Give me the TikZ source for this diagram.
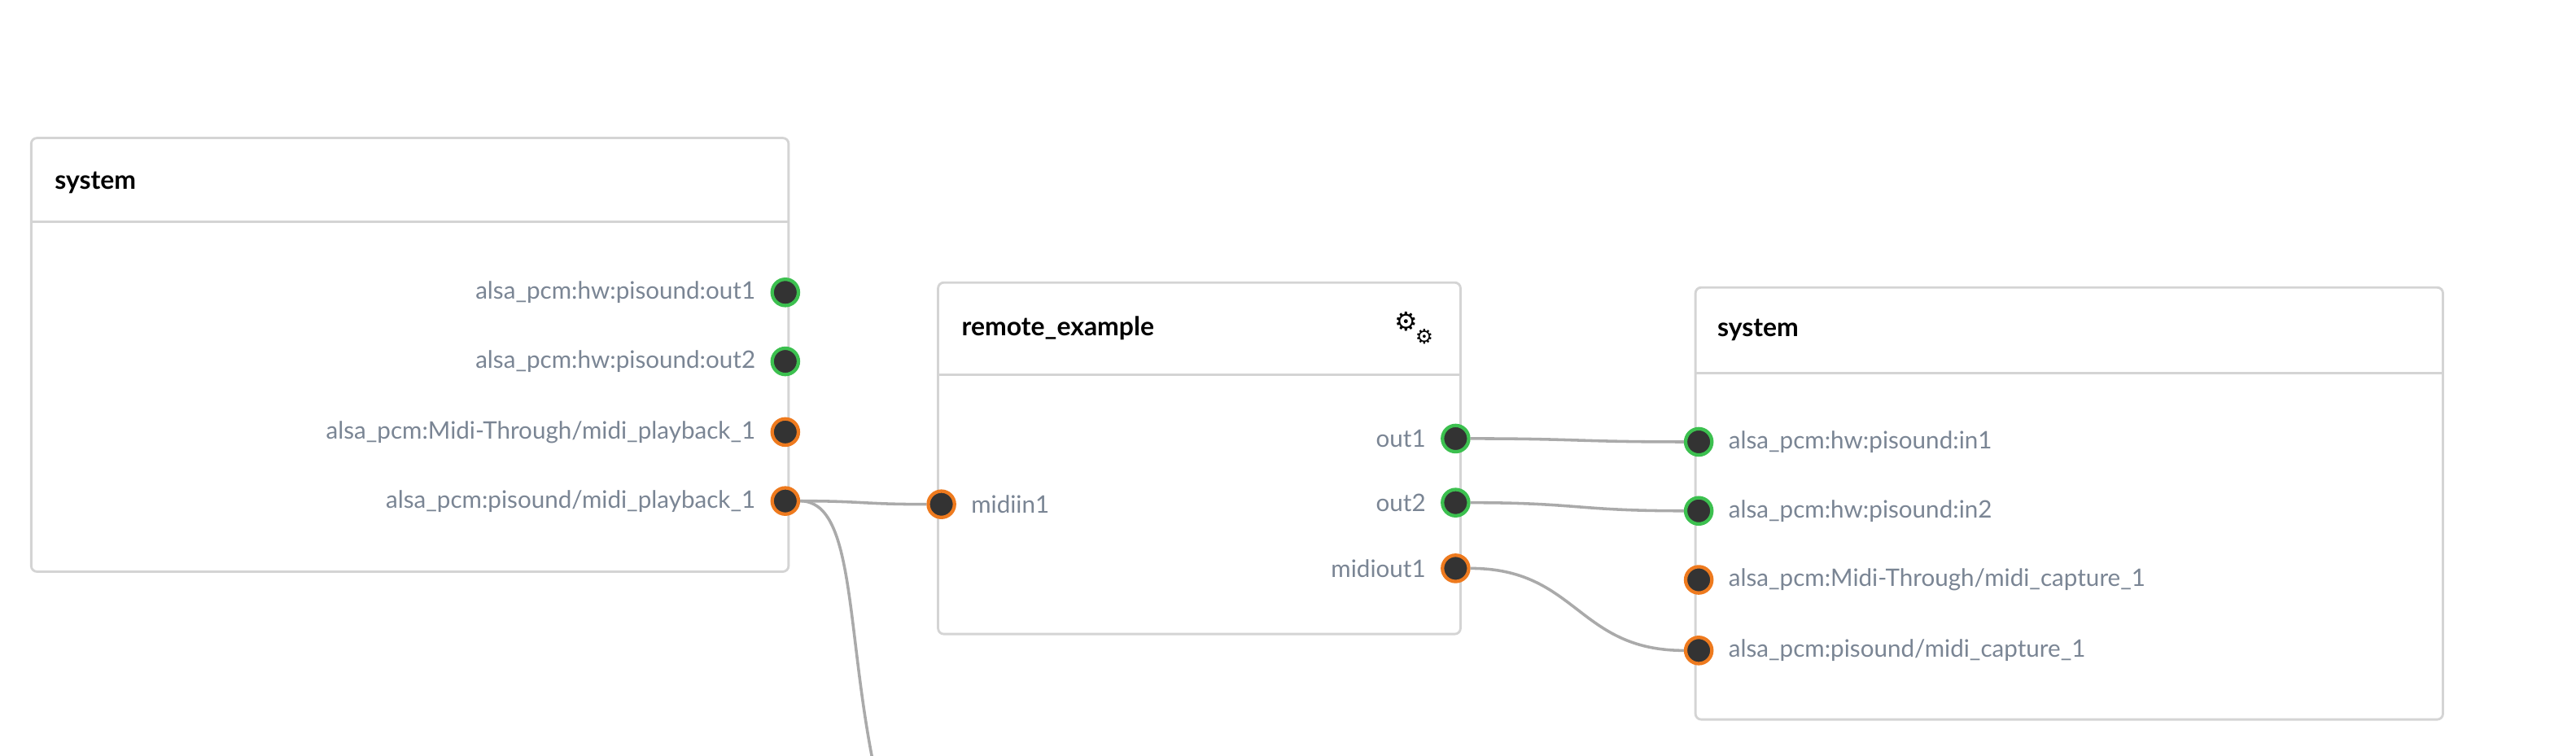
\documentclass[tikz,border=0pt]{standalone}
\usepackage{fontspec}
\setmainfont{Lato}
\newfontfamily\symfont{DejaVu Sans}
\usetikzlibrary{positioning}
\definecolor{portgreen}{HTML}{3CC04F}
\definecolor{portorange}{HTML}{EE7A1E}
\definecolor{portfill}{HTML}{333333}
\definecolor{labelgray}{HTML}{7A8594}
\definecolor{boxline}{HTML}{D4D4D4}
\definecolor{wire}{HTML}{AAAAAA}
\tikzset{>=latex}
\begin{document}
\begin{tikzpicture}[x=0.02cm, y=-0.02cm,
    block/.style={draw=boxline, line width=0.8pt, rounded corners=2pt, fill=white},
    title/.style={anchor=west, inner sep=0pt, font=\fontsize{9}{10}\selectfont\bfseries},
    audio/.style={circle, draw=portgreen, fill=portfill, line width=1.2pt, minimum size=0.32cm, inner sep=0pt},
    midi/.style={audio, draw=portorange},
    plabel/.style={text=labelgray, inner sep=1pt, font=\fontsize{8.35}{10}\selectfont},
    wireline/.style={draw=wire, line width=1pt}
  ]
  \useasboundingbox (0,0) rectangle (1568,460);
  % left system
  \draw[block] (19,84) rectangle (480,348);
  \draw[boxline, line width=0.8pt] (19,135) -- (480,135);
  \node[title] (systitle) at (33,111) {system};
  \node[audio] (lout1) at (478,178) {};
  \node[audio] (lout2) at (478,220) {};
  \node[midi] (lmidi1) at (478,263) {};
  \node[midi] (lmidi2) at (478,305) {};
  \node[plabel, left=4pt of lout1] {alsa\_pcm:hw:pisound:out1};
  \node[plabel, left=4pt of lout2] {alsa\_pcm:hw:pisound:out2};
  \node[plabel, left=4pt of lmidi1] {alsa\_pcm:Midi-Through/midi\_playback\_1};
  \node[plabel, left=4pt of lmidi2] {alsa\_pcm:pisound/midi\_playback\_1};
  % remote_example
  \draw[block] (571,172) rectangle (889,386);
  \draw[boxline, line width=0.8pt] (571,228) -- (889,228);
  \node[title] (remtitle) at (585,200) {remote\_example};
  \node[inner sep=0pt, font=\symfont\bfseries\fontsize{9}{9}\selectfont] (gearA) at (856,196) {⚙};
  \node[inner sep=0pt, font=\symfont\bfseries\fontsize{7}{7}\selectfont] (gearB) at (867,205) {⚙};
  \node[midi] (midiin) at (573,307) {};
  \node[audio] (rout1) at (886,267) {};
  \node[audio] (rout2) at (886,306) {};
  \node[midi] (midiout) at (886,346) {};
  \node[plabel, right=4pt of midiin] {midiin1};
  \node[plabel, left=4pt of rout1] {out1};
  \node[plabel, left=4pt of rout2] {out2};
  \node[plabel, left=4pt of midiout] {midiout1};
  % right system
  \draw[block] (1032,175) rectangle (1487,438);
  \draw[boxline, line width=0.8pt] (1032,227) -- (1487,227);
  \node[title] (sys2title) at (1045,201) {system};
  \node[audio] (in1) at (1034,269) {};
  \node[audio] (in2) at (1034,311) {};
  \node[midi] (cap1) at (1034,353) {};
  \node[midi] (cap2) at (1034,396) {};
  \node[plabel, right=4pt of in1] {alsa\_pcm:hw:pisound:in1};
  \node[plabel, right=4pt of in2] {alsa\_pcm:hw:pisound:in2};
  \node[plabel, right=4pt of cap1] {alsa\_pcm:Midi-Through/midi\_capture\_1};
  \node[plabel, right=4pt of cap2] {alsa\_pcm:pisound/midi\_capture\_1};
  % wires
  \coordinate (offbottom) at (531,462);
  \path[wireline] (rout1) .. controls (960,267) and (960,269) .. (in1);
  \path[wireline] (rout2) .. controls (960,306) and (960,311) .. (in2);
  \path[wireline] (midiout) .. controls (960,346) and (960,396) .. (cap2);
  \path[wireline] (lmidi2) .. controls (525,305) and (525,307) .. (midiin);
  \path[wireline] (lmidi2) .. controls (520,305) and (515,380) .. (offbottom);
\end{tikzpicture}
\end{document}
